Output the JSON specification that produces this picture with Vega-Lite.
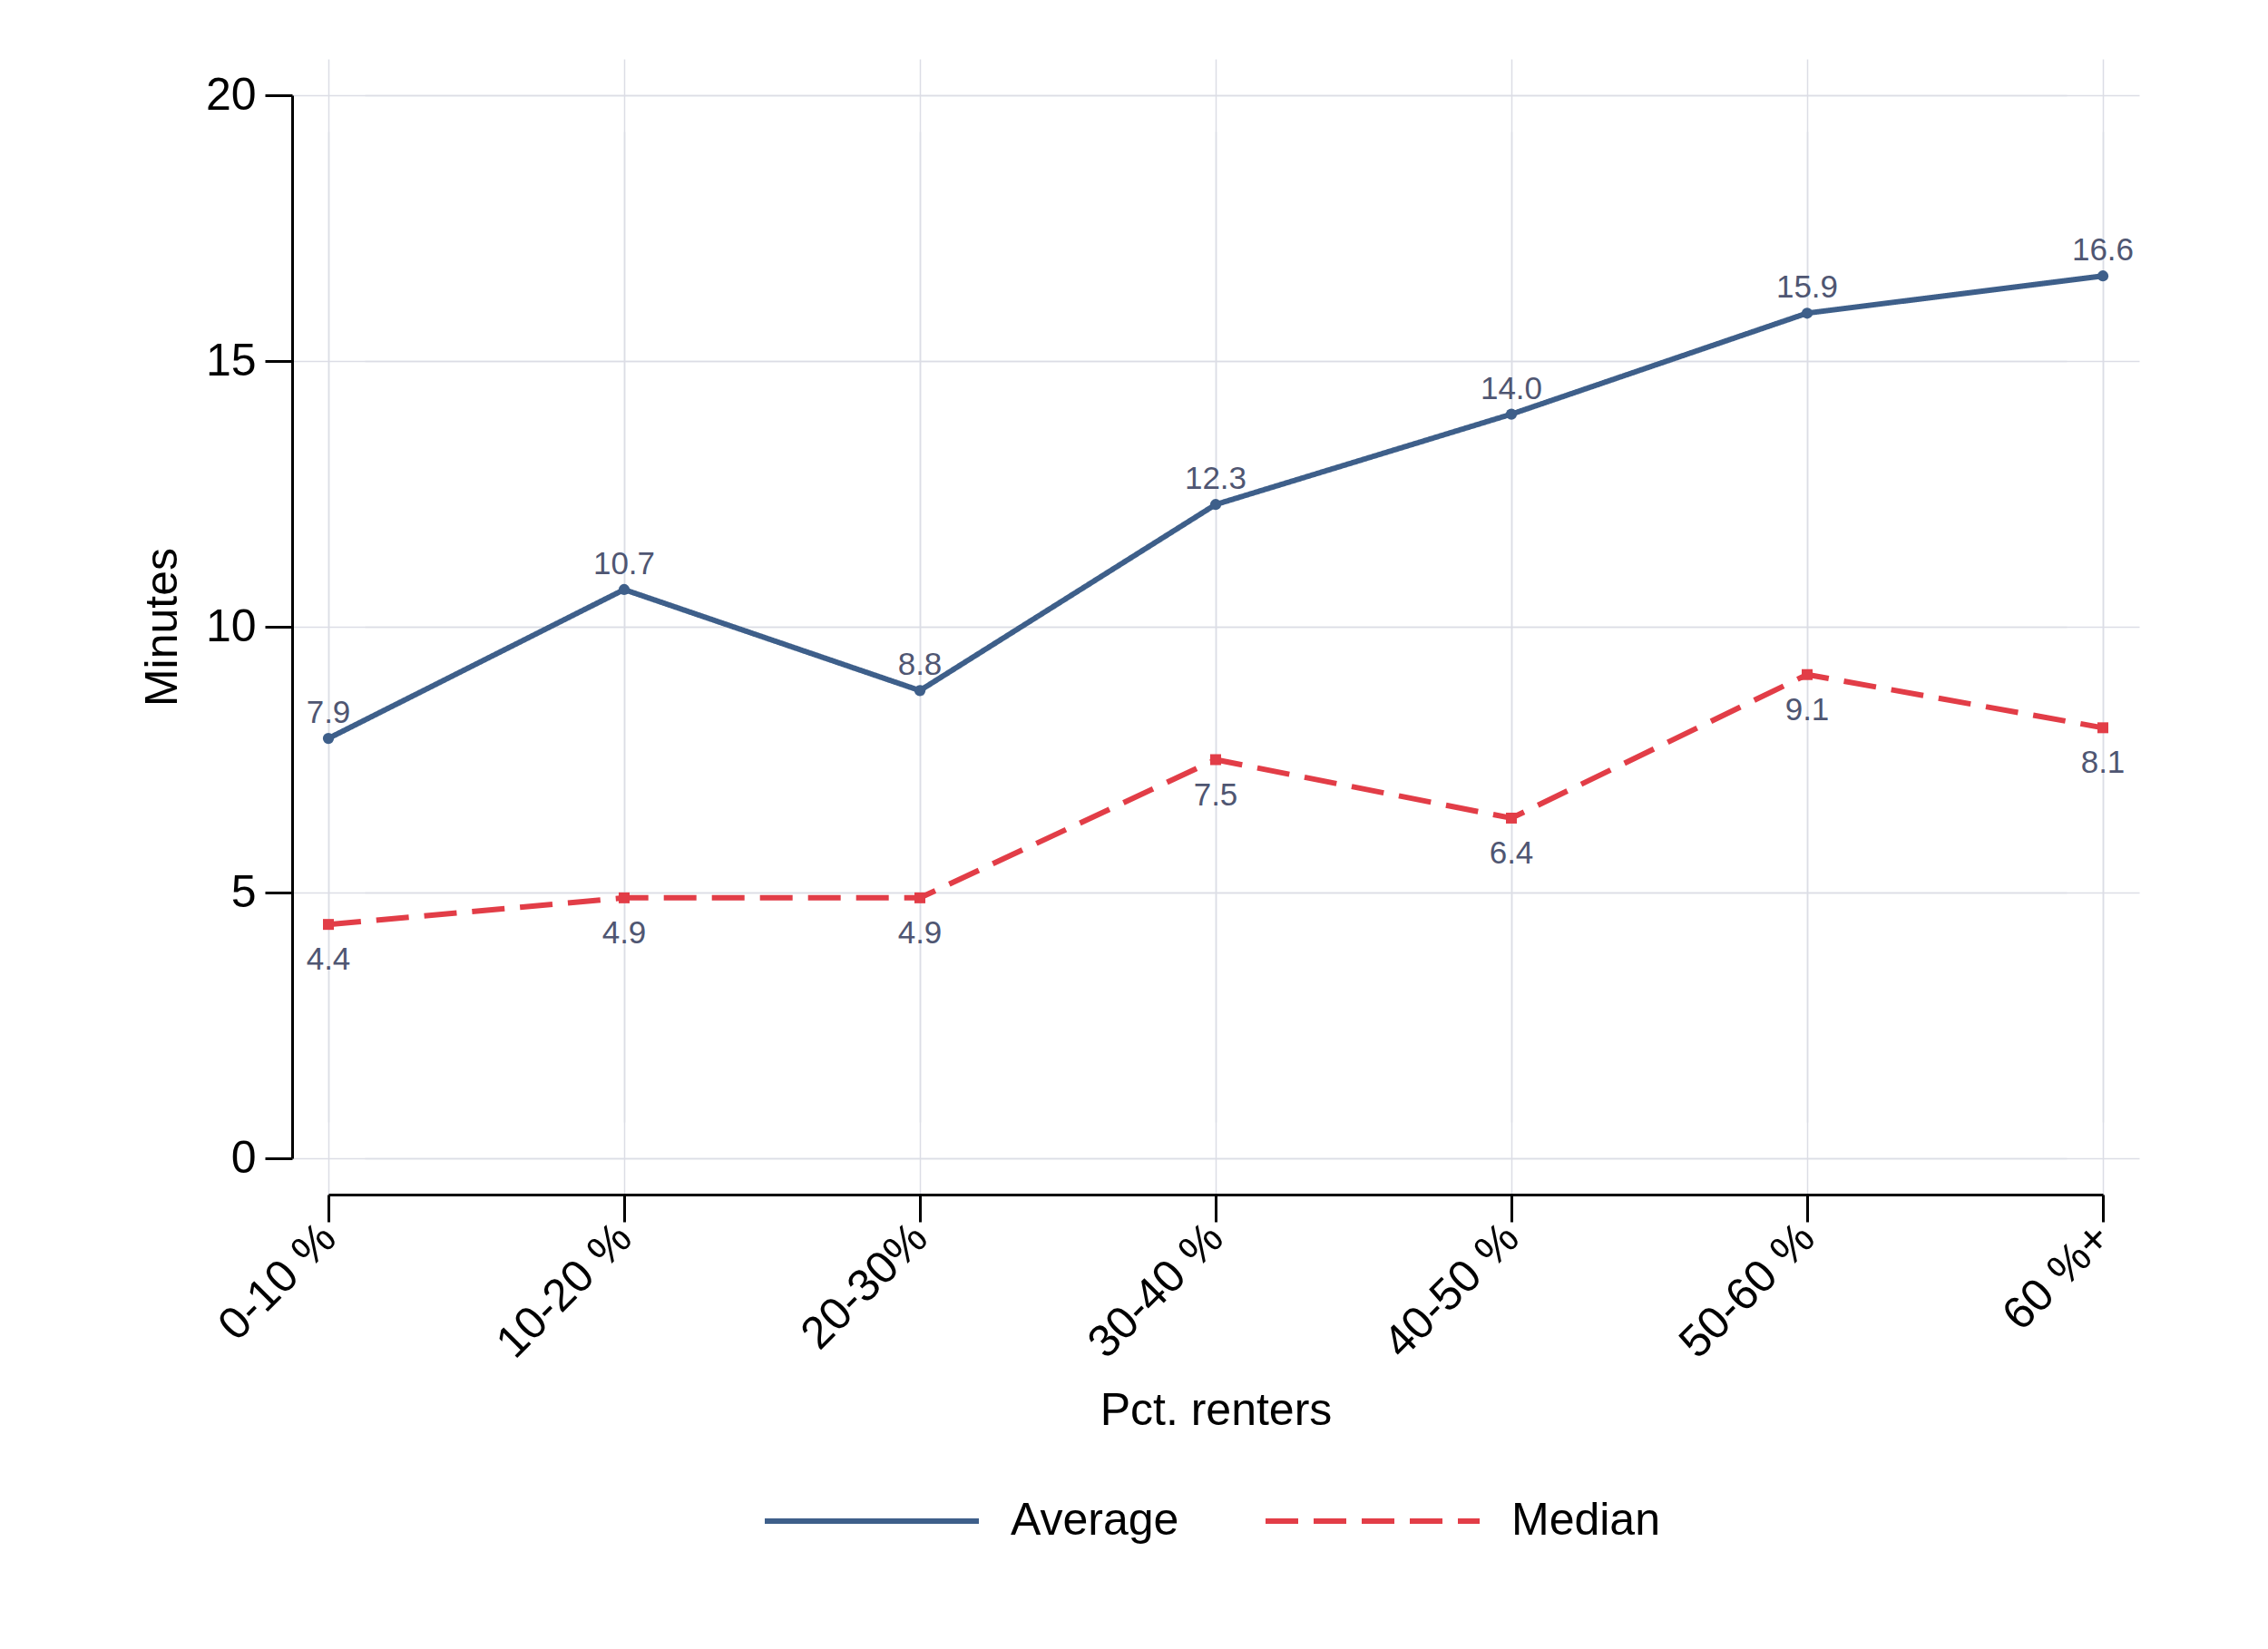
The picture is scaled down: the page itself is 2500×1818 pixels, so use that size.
{
  "$schema": "https://vega.github.io/schema/vega-lite/v6.json",
  "autosize": {"type": "none"},
  "width": 1956,
  "height": 1172,
  "padding": {"left": 362, "top": 105, "right": 182, "bottom": 541},
  "background": "white",
  "config": {
    "view": {"stroke": null},
    "font": "Liberation Sans",
    "axis": {
      "labelFont": "Liberation Sans",
      "titleFont": "Liberation Sans",
      "labelFontSize": 50,
      "titleFontSize": 50,
      "titleFontWeight": "normal",
      "labelColor": "black",
      "titleColor": "black",
      "domainColor": "black",
      "domainWidth": 3,
      "tickColor": "black",
      "tickWidth": 3,
      "tickSize": 30,
      "gridColor": "#dcdde5",
      "gridWidth": 1.5,
      "offset": 40,
      "labelLimit": 0
    },
    "legend": {
      "labelFont": "Liberation Sans",
      "labelFontSize": 50,
      "labelColor": "black",
      "labelLimit": 0
    }
  },
  "data": {
    "values": [
      {"cat": "0-10 %", "series": "Average", "value": 7.9},
      {"cat": "10-20 %", "series": "Average", "value": 10.7},
      {"cat": "20-30%", "series": "Average", "value": 8.8},
      {"cat": "30-40 %", "series": "Average", "value": 12.3},
      {"cat": "40-50 %", "series": "Average", "value": 14.0},
      {"cat": "50-60 %", "series": "Average", "value": 15.9},
      {"cat": "60 %+", "series": "Average", "value": 16.6},
      {"cat": "0-10 %", "series": "Median", "value": 4.4},
      {"cat": "10-20 %", "series": "Median", "value": 4.9},
      {"cat": "20-30%", "series": "Median", "value": 4.9},
      {"cat": "30-40 %", "series": "Median", "value": 7.5},
      {"cat": "40-50 %", "series": "Median", "value": 6.4},
      {"cat": "50-60 %", "series": "Median", "value": 9.1},
      {"cat": "60 %+", "series": "Median", "value": 8.1}
    ]
  },
  "resolve": {"axis": {"x": "independent", "y": "independent"}},
  "layer": [
    {
      "mark": {"type": "line", "strokeWidth": 6},
      "encoding": {
        "x": {
          "field": "cat",
          "type": "ordinal",
          "sort": null,
          "scale": {"type": "point", "padding": 0},
          "axis": {
            "orient": "bottom",
            "title": "Pct. renters",
            "labelAngle": -45,
            "labelAlign": "right",
            "labelBaseline": "middle",
            "labelPadding": 10,
            "titlePadding": 24,
            "grid": true
          }
        },
        "y": {
          "field": "value",
          "type": "quantitative",
          "scale": {"domain": [0, 20], "nice": false, "zero": true},
          "axis": {
            "orient": "left",
            "title": "Minutes",
            "values": [0, 5, 10, 15, 20],
            "labelPadding": 10,
            "titlePadding": 22,
            "grid": true
          }
        },
        "color": {
          "field": "series",
          "type": "nominal",
          "scale": {"domain": ["Average", "Median"], "range": ["#3e5f8a", "#e23d47"]},
          "legend": {
            "title": null,
            "orient": "none",
            "direction": "horizontal",
            "legendX": 478,
            "legendY": 1451,
            "symbolType": "stroke",
            "symbolSize": 55696,
            "symbolStrokeWidth": 6,
            "labelOffset": 32,
            "columnPadding": 83,
            "padding": 0
          }
        },
        "strokeDash": {
          "field": "series",
          "type": "nominal",
          "scale": {"domain": ["Average", "Median"], "range": [[1, 0], [36, 17]]},
          "legend": {
            "title": null,
            "orient": "none",
            "direction": "horizontal",
            "legendX": 478,
            "legendY": 1451,
            "symbolType": "stroke",
            "symbolSize": 55696,
            "symbolStrokeWidth": 6,
            "labelOffset": 32,
            "columnPadding": 83,
            "padding": 0
          }
        }
      }
    },
    {
      "transform": [{"filter": "datum.series === 'Average'"}],
      "mark": {"type": "point", "filled": true, "opacity": 1, "shape": "circle", "color": "#3e5f8a", "size": 150},
      "encoding": {
        "x": {
          "field": "cat",
          "type": "ordinal",
          "sort": null,
          "axis": {
            "orient": "top",
            "title": null,
            "grid": true,
            "domain": false,
            "ticks": false,
            "labels": false
          }
        },
        "y": {
          "field": "value",
          "type": "quantitative",
          "axis": {
            "orient": "right",
            "title": null,
            "values": [0, 5, 10, 15, 20],
            "grid": true,
            "domain": false,
            "ticks": false,
            "labels": false
          }
        }
      }
    },
    {
      "transform": [{"filter": "datum.series === 'Median'"}],
      "mark": {"type": "point", "filled": true, "opacity": 1, "shape": "square", "color": "#e23d47", "size": 144},
      "encoding": {
        "x": {"field": "cat", "type": "ordinal", "sort": null, "axis": null},
        "y": {"field": "value", "type": "quantitative", "axis": null}
      }
    },
    {
      "transform": [{"filter": "datum.series === 'Average'"}],
      "mark": {"type": "text", "dy": -28, "fontSize": 35, "color": "#4f5672", "baseline": "middle", "font": "Liberation Sans"},
      "encoding": {
        "x": {"field": "cat", "type": "ordinal", "sort": null, "axis": null},
        "y": {"field": "value", "type": "quantitative", "axis": null},
        "text": {"field": "value", "type": "quantitative", "format": ".1f"}
      }
    },
    {
      "transform": [{"filter": "datum.series === 'Median'"}],
      "mark": {"type": "text", "dy": 39, "fontSize": 35, "color": "#4f5672", "baseline": "middle", "font": "Liberation Sans"},
      "encoding": {
        "x": {"field": "cat", "type": "ordinal", "sort": null, "axis": null},
        "y": {"field": "value", "type": "quantitative", "axis": null},
        "text": {"field": "value", "type": "quantitative", "format": ".1f"}
      }
    }
  ]
}
